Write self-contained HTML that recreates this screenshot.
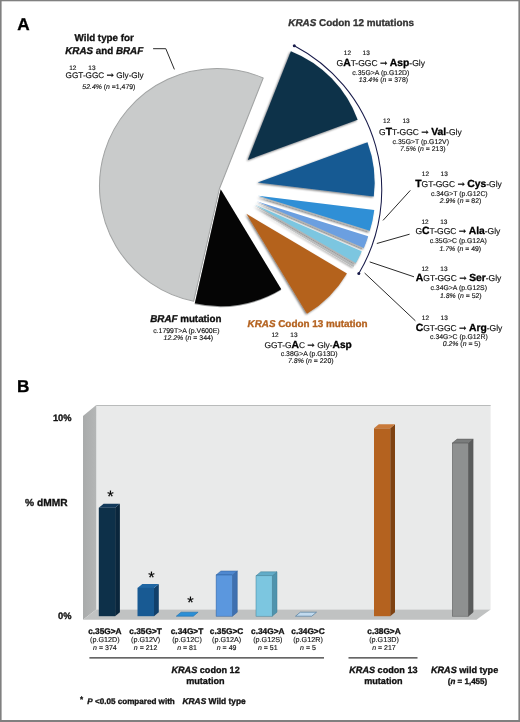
<!DOCTYPE html>
<html><head><meta charset="utf-8"><title>KRAS mutation figure</title>
<style>
html,body{margin:0;padding:0;background:#fff;}
body{width:520px;height:722px;overflow:hidden;}
svg{display:block;font-family:"Liberation Sans",Arial,sans-serif;text-rendering:geometricPrecision;}
</style></head><body>
<svg width="520" height="722" viewBox="0 0 520 722">
<defs>
<filter id="sh" x="-20%" y="-20%" width="140%" height="140%">
<feGaussianBlur in="SourceAlpha" stdDeviation="1.1"/>
<feOffset dx="-0.8" dy="1.2" result="b"/>
<feComponentTransfer><feFuncA type="linear" slope="0.55"/></feComponentTransfer>
<feMerge><feMergeNode/><feMergeNode in="SourceGraphic"/></feMerge>
</filter>
<linearGradient id="sw" x1="0" y1="0" x2="1" y2="0"><stop offset="0" stop-color="#a9abab"/><stop offset="1" stop-color="#b4b6b6"/></linearGradient>
</defs>
<rect x="0" y="0" width="520" height="722" fill="#fff"/>
<g id="pie">
<path d="M247.79,159.93 L290.86,51.15 A117.0,117.0 0 0 1 357.66,119.70 Z" fill="#0d3049" filter="url(#sh)"/>
<path d="M257.64,182.46 L367.50,142.23 A117.0,117.0 0 0 1 373.79,196.55 Z" fill="#185a93" filter="url(#sh)"/>
<path d="M258.12,195.81 L374.27,209.89 A117.0,117.0 0 0 1 369.78,230.73 Z" fill="#b3b5b5" transform="translate(-0.4,0.9)" filter="url(#sh)"/>
<path d="M258.12,195.81 L374.27,209.89 A117.0,117.0 0 0 1 369.78,230.73 Z" fill="#2f8fd6"/>
<path d="M256.52,201.29 L368.18,236.21 A117.0,117.0 0 0 1 363.82,247.93 Z" fill="#b3b5b5" transform="translate(-0.4,0.9)" filter="url(#sh)"/>
<path d="M256.52,201.29 L368.18,236.21 A117.0,117.0 0 0 1 363.82,247.93 Z" fill="#6b9fe0"/>
<path d="M254.48,204.57 L361.78,251.21 A117.0,117.0 0 0 1 355.82,263.03 Z" fill="#b3b5b5" transform="translate(-0.4,0.9)" filter="url(#sh)"/>
<path d="M254.48,204.57 L361.78,251.21 A117.0,117.0 0 0 1 355.82,263.03 Z" fill="#7cc6e0"/>
<path d="M253.09,206.45 L354.44,264.91 A117.0,117.0 0 0 1 353.69,266.18 Z" fill="#b3b5b5" transform="translate(-0.4,0.9)" filter="url(#sh)"/>
<path d="M253.09,206.45 L354.44,264.91 A117.0,117.0 0 0 1 353.69,266.18 Z" fill="#b7babb"/>
<path d="M246.35,213.71 L346.95,273.44 A117.0,117.0 0 0 1 306.95,313.80 Z" fill="#b4621f" filter="url(#sh)"/>
<path d="M220.70,189.17 L281.30,289.25 A117.0,117.0 0 0 1 194.84,303.27 Z" fill="#9a9c9c" transform="translate(-0.3,1)"/>
<path d="M220.70,189.17 L281.30,289.25 A117.0,117.0 0 0 1 194.84,303.27 Z" fill="#050505"/>
<path d="M219.5,188.5 L193.7,301.2 A117.5,117.5 0 1 1 263.2,78.0 Z" fill="#c9cbcb" stroke="#a2a4a4" stroke-width="1.05" stroke-linejoin="round"/>
<path d="M294.3,45.7 A163,163 0 0 1 358.8,273.5" fill="none" stroke="#181b4a" stroke-width="1.05"/><circle cx="294.3" cy="45.7" r="1.5" fill="#181b4a"/><circle cx="358.8" cy="273.5" r="1.5" fill="#181b4a"/>
<g stroke="#2a2a2a" stroke-width="1" fill="none">
<path d="M153.1,48.7 H165.8 L174.4,69.4"/>
<path d="M410.3,190.4 L383,220.4"/>
<path d="M409.6,234.2 L376.8,243.5"/>
<path d="M414,276.8 L369.7,261.9"/>
<path d="M415.4,320.8 L364.6,273"/>
</g>
</g>
<g id="bars">
<polygon points="96.3,405 490.6,405 490.6,609.5 96.3,609.5" fill="#e9eaea"/>
<line x1="96.3" y1="405.5" x2="490.6" y2="405.5" stroke="#b9bbbb" stroke-width="1.2"/>
<polygon points="83,416 96.3,405 96.3,609.5 83,619.8" fill="url(#sw)"/>
<polygon points="96.3,609.5 490.6,609.5 476.5,619.8 83,619.8" fill="#c0c2c2"/>
<polygon points="115.1,507.7 119.89999999999999,503.7 119.89999999999999,612.2 115.1,616.2" fill="#0a263c"/>
<polygon points="98.8,507.7 103.6,503.7 119.89999999999999,503.7 115.1,507.7" fill="#12395a"/>
<rect x="98.8" y="507.7" width="16.3" height="108.50000000000006" fill="#0d3049"/>
<polygon points="154.0,587.9 158.8,583.9 158.8,612.2 154.0,616.2" fill="#11406b"/>
<polygon points="137.5,587.9 142.3,583.9 158.8,583.9 154.0,587.9" fill="#1f66a3"/>
<rect x="137.5" y="587.9" width="16.5" height="28.300000000000068" fill="#185a93"/>
<polygon points="176.3,616.2 193.3,616.2 198.10000000000002,612.2 181.10000000000002,612.2" fill="#2b8fd6" stroke="#1d6fae" stroke-width="0.6"/>
<polygon points="232.5,575 237.3,571.0 237.3,612.2 232.5,616.2" fill="#3f70b0" stroke="#2f5f9a" stroke-width="0.5"/>
<polygon points="216.1,575 220.9,571.0 237.3,571.0 232.5,575" fill="#4f88cf" stroke="#2f5f9a" stroke-width="0.5"/>
<rect x="216.1" y="575" width="16.4" height="41.200000000000045" fill="#5b97de" stroke="#2f5f9a" stroke-width="0.5"/>
<polygon points="272.2,575.8 277.0,571.8 277.0,612.2 272.2,616.2" fill="#4f93ad" stroke="#3f7f97" stroke-width="0.5"/>
<polygon points="256,575.8 260.8,571.8 277.0,571.8 272.2,575.8" fill="#62acc8" stroke="#3f7f97" stroke-width="0.5"/>
<rect x="256" y="575.8" width="16.2" height="40.40000000000009" fill="#7cc6e0" stroke="#3f7f97" stroke-width="0.5"/>
<polygon points="295.5,616.2 311.7,616.2 316.5,612.2 300.3,612.2" fill="#c1daee" stroke="#3f6f94" stroke-width="0.6"/>
<polygon points="390.2,428.3 395.0,424.3 395.0,612.2 390.2,616.2" fill="#7e4212"/>
<polygon points="374,428.3 378.8,424.3 395.0,424.3 390.2,428.3" fill="#c97a3a"/>
<rect x="374" y="428.3" width="16.2" height="187.90000000000003" fill="#b4621f"/>
<polygon points="468.3,443.1 473.1,439.1 473.1,612.2 468.3,616.2" fill="#5a5c5c" stroke="#555" stroke-width="0.5"/>
<polygon points="452.3,443.1 457.1,439.1 473.1,439.1 468.3,443.1" fill="#7a7c7c" stroke="#555" stroke-width="0.5"/>
<rect x="452.3" y="443.1" width="16" height="173.10000000000002" fill="#8e9090" stroke="#555" stroke-width="0.5"/>
<line x1="89.4" y1="657.8" x2="324" y2="657.8" stroke="#333" stroke-width="1.2"/>
<line x1="348.5" y1="657.8" x2="417.5" y2="657.8" stroke="#333" stroke-width="1.2"/>
</g>
<g id="labels">
<text x="17.2" y="29.7" font-size="17.2" font-weight="bold" font-style="normal" text-anchor="start" fill="#000" stroke="#000" stroke-width="0.32" >A</text>
<text x="17.0" y="391.8" font-size="17.2" font-weight="bold" font-style="normal" text-anchor="start" fill="#000" stroke="#000" stroke-width="0.32" >B</text>
<text x="104.2" y="40.6" font-size="9.8" font-weight="bold" font-style="normal" text-anchor="middle" fill="#111" stroke="#111" stroke-width="0.32" >Wild type for</text>
<text x="104.2" y="54.1" font-size="9.8" font-weight="bold" font-style="normal" text-anchor="middle" fill="#111" stroke="#111" stroke-width="0.32" ><tspan font-style="italic">KRAS</tspan> and <tspan font-style="italic">BRAF</tspan></text>
<text x="69.2" y="69.6" font-size="6.5" font-weight="normal" font-style="normal" text-anchor="start" fill="#111" stroke="#111" stroke-width="0.14" >12</text>
<text x="88.3" y="69.6" font-size="6.5" font-weight="normal" font-style="normal" text-anchor="start" fill="#111" stroke="#111" stroke-width="0.14" >13</text>
<text x="65.6" y="78.3" font-size="8.2" font-weight="normal" font-style="normal" text-anchor="start" fill="#111" stroke="#111" stroke-width="0.14" >GGT-GGC <tspan font-size="9">➞</tspan> Gly-Gly</text>
<text x="82.3" y="89.1" font-size="6.9" font-weight="normal" font-style="normal" text-anchor="start" fill="#111" stroke="#111" stroke-width="0.14" ><tspan font-style="italic">52.4%</tspan> (<tspan font-style="italic">n</tspan> =1,479)</text>
<text x="288.3" y="25.6" font-size="9.9" font-weight="bold" font-style="normal" text-anchor="start" fill="#333" stroke="#333" stroke-width="0.32" ><tspan font-style="italic">KRAS</tspan> Codon 12 mutations</text>
<text x="343.8" y="55.2" font-size="6.5" font-weight="normal" font-style="normal" text-anchor="start" fill="#111" stroke="#111" stroke-width="0.14" >12</text>
<text x="362.6" y="55.2" font-size="6.5" font-weight="normal" font-style="normal" text-anchor="start" fill="#111" stroke="#111" stroke-width="0.14" >13</text>
<text x="336.5" y="66.2" font-size="8.5" font-weight="normal" font-style="normal" text-anchor="start" fill="#111" stroke="#111" stroke-width="0.14" >G<tspan font-weight="bold" font-size="10.4" fill="#000" stroke="#000" stroke-width="0.3">A</tspan>T-GGC <tspan font-size="9">➞</tspan> <tspan font-weight="bold" font-size="10.3" fill="#000" stroke="#000" stroke-width="0.3">Asp</tspan>-Gly</text>
<text x="380.8" y="74.7" font-size="6.9" font-weight="normal" font-style="normal" text-anchor="middle" fill="#111" stroke="#111" stroke-width="0.14" >c.35G&gt;A (p.G12D)</text>
<text x="383.4" y="82.3" font-size="6.9" font-weight="normal" font-style="normal" text-anchor="middle" fill="#111" stroke="#111" stroke-width="0.14" ><tspan font-style="italic">13.4%</tspan> (<tspan font-style="italic">n</tspan> = 378)</text>
<text x="383.1" y="122.7" font-size="6.5" font-weight="normal" font-style="normal" text-anchor="start" fill="#111" stroke="#111" stroke-width="0.14" >12</text>
<text x="402.5" y="122.7" font-size="6.5" font-weight="normal" font-style="normal" text-anchor="start" fill="#111" stroke="#111" stroke-width="0.14" >13</text>
<text x="379" y="135.3" font-size="8.5" font-weight="normal" font-style="normal" text-anchor="start" fill="#111" stroke="#111" stroke-width="0.14" >G<tspan font-weight="bold" font-size="10.4" fill="#000" stroke="#000" stroke-width="0.3">T</tspan>T-GGC <tspan font-size="9">➞</tspan> <tspan font-weight="bold" font-size="10.3" fill="#000" stroke="#000" stroke-width="0.3">Val</tspan>-Gly</text>
<text x="420.8" y="143.8" font-size="6.9" font-weight="normal" font-style="normal" text-anchor="middle" fill="#111" stroke="#111" stroke-width="0.14" >c.35G&gt;T (p.G12V)</text>
<text x="422.8" y="150.8" font-size="6.9" font-weight="normal" font-style="normal" text-anchor="middle" fill="#111" stroke="#111" stroke-width="0.14" ><tspan font-style="italic">7.5%</tspan> (<tspan font-style="italic">n</tspan> = 213)</text>
<text x="421.8" y="176.3" font-size="6.5" font-weight="normal" font-style="normal" text-anchor="start" fill="#111" stroke="#111" stroke-width="0.14" >12</text>
<text x="440.6" y="176.3" font-size="6.5" font-weight="normal" font-style="normal" text-anchor="start" fill="#111" stroke="#111" stroke-width="0.14" >13</text>
<text x="415.2" y="187.05" font-size="8.5" font-weight="normal" font-style="normal" text-anchor="start" fill="#111" stroke="#111" stroke-width="0.14" ><tspan font-weight="bold" font-size="10.4" fill="#000" stroke="#000" stroke-width="0.3">T</tspan>GT-GGC <tspan font-size="9">➞</tspan> <tspan font-weight="bold" font-size="10.3" fill="#000" stroke="#000" stroke-width="0.3">Cys</tspan>-Gly</text>
<text x="459.3" y="195.55" font-size="6.9" font-weight="normal" font-style="normal" text-anchor="middle" fill="#111" stroke="#111" stroke-width="0.14" >c.34G&gt;T (p.G12C)</text>
<text x="460.5" y="202.7" font-size="6.9" font-weight="normal" font-style="normal" text-anchor="middle" fill="#111" stroke="#111" stroke-width="0.14" ><tspan font-style="italic">2.9%</tspan> (<tspan font-style="italic">n</tspan> = 82)</text>
<text x="421.4" y="223.6" font-size="6.5" font-weight="normal" font-style="normal" text-anchor="start" fill="#111" stroke="#111" stroke-width="0.14" >12</text>
<text x="440.2" y="223.6" font-size="6.5" font-weight="normal" font-style="normal" text-anchor="start" fill="#111" stroke="#111" stroke-width="0.14" >13</text>
<text x="415.4" y="234.15" font-size="8.5" font-weight="normal" font-style="normal" text-anchor="start" fill="#111" stroke="#111" stroke-width="0.14" >G<tspan font-weight="bold" font-size="10.4" fill="#000" stroke="#000" stroke-width="0.3">C</tspan>T-GGC <tspan font-size="9">➞</tspan> <tspan font-weight="bold" font-size="10.3" fill="#000" stroke="#000" stroke-width="0.3">Ala</tspan>-Gly</text>
<text x="458.3" y="243.2" font-size="6.9" font-weight="normal" font-style="normal" text-anchor="middle" fill="#111" stroke="#111" stroke-width="0.14" >c.35G&gt;C (p.G12A)</text>
<text x="460.3" y="250.7" font-size="6.9" font-weight="normal" font-style="normal" text-anchor="middle" fill="#111" stroke="#111" stroke-width="0.14" ><tspan font-style="italic">1.7%</tspan> (<tspan font-style="italic">n</tspan> = 49)</text>
<text x="421.5" y="270.6" font-size="6.5" font-weight="normal" font-style="normal" text-anchor="start" fill="#111" stroke="#111" stroke-width="0.14" >12</text>
<text x="440.3" y="270.6" font-size="6.5" font-weight="normal" font-style="normal" text-anchor="start" fill="#111" stroke="#111" stroke-width="0.14" >13</text>
<text x="415.8" y="281.4" font-size="8.5" font-weight="normal" font-style="normal" text-anchor="start" fill="#111" stroke="#111" stroke-width="0.14" ><tspan font-weight="bold" font-size="10.4" fill="#000" stroke="#000" stroke-width="0.3">A</tspan>GT-GGC <tspan font-size="9">➞</tspan> <tspan font-weight="bold" font-size="10.3" fill="#000" stroke="#000" stroke-width="0.3">Ser</tspan>-Gly</text>
<text x="458.7" y="290.4" font-size="6.9" font-weight="normal" font-style="normal" text-anchor="middle" fill="#111" stroke="#111" stroke-width="0.14" >c.34G&gt;A (p.G12S)</text>
<text x="460.8" y="297.9" font-size="6.9" font-weight="normal" font-style="normal" text-anchor="middle" fill="#111" stroke="#111" stroke-width="0.14" ><tspan font-style="italic">1.8%</tspan> (<tspan font-style="italic">n</tspan> = 52)</text>
<text x="421.8" y="319.8" font-size="6.5" font-weight="normal" font-style="normal" text-anchor="start" fill="#111" stroke="#111" stroke-width="0.14" >12</text>
<text x="440.6" y="319.8" font-size="6.5" font-weight="normal" font-style="normal" text-anchor="start" fill="#111" stroke="#111" stroke-width="0.14" >13</text>
<text x="415.7" y="330.8" font-size="8.5" font-weight="normal" font-style="normal" text-anchor="start" fill="#111" stroke="#111" stroke-width="0.14" ><tspan font-weight="bold" font-size="10.4" fill="#000" stroke="#000" stroke-width="0.3">C</tspan>GT-GGC <tspan font-size="9">➞</tspan> <tspan font-weight="bold" font-size="10.3" fill="#000" stroke="#000" stroke-width="0.3">Arg</tspan>-Gly</text>
<text x="458.9" y="338.9" font-size="6.9" font-weight="normal" font-style="normal" text-anchor="middle" fill="#111" stroke="#111" stroke-width="0.14" >c.34G&gt;C (p.G12R)</text>
<text x="461.6" y="346.1" font-size="6.9" font-weight="normal" font-style="normal" text-anchor="middle" fill="#111" stroke="#111" stroke-width="0.14" ><tspan font-style="italic">0.2%</tspan> (<tspan font-style="italic">n</tspan> = 5)</text>
<text x="185.9" y="321.5" font-size="9.8" font-weight="bold" font-style="normal" text-anchor="middle" fill="#111" stroke="#111" stroke-width="0.32" ><tspan font-style="italic">BRAF</tspan> mutation</text>
<text x="186.4" y="332.8" font-size="6.95" font-weight="normal" font-style="normal" text-anchor="middle" fill="#111" stroke="#111" stroke-width="0.14" >c.1799T&gt;A (p.V600E)</text>
<text x="188.4" y="340.4" font-size="6.95" font-weight="normal" font-style="normal" text-anchor="middle" fill="#111" stroke="#111" stroke-width="0.14" ><tspan font-style="italic">12.2%</tspan> (<tspan font-style="italic">n</tspan> = 344)</text>
<text x="247.5" y="327.0" font-size="9.9" font-weight="bold" font-style="normal" text-anchor="start" fill="#b4621f" stroke="#b4621f" stroke-width="0.32" ><tspan font-style="italic">KRAS</tspan> Codon 13 mutation</text>
<text x="271.4" y="337.3" font-size="6.5" font-weight="normal" font-style="normal" text-anchor="start" fill="#111" stroke="#111" stroke-width="0.14" >12</text>
<text x="290.3" y="337.3" font-size="6.5" font-weight="normal" font-style="normal" text-anchor="start" fill="#111" stroke="#111" stroke-width="0.14" >13</text>
<text x="264.5" y="347.7" font-size="8.4" font-weight="normal" font-style="normal" text-anchor="start" fill="#111" stroke="#111" stroke-width="0.14" >GGT-G<tspan font-weight="bold" font-size="10.3" fill="#000" stroke="#000" stroke-width="0.3">A</tspan>C <tspan font-size="9">➞</tspan> Gly-<tspan font-weight="bold" font-size="10.2" fill="#000" stroke="#000" stroke-width="0.3">Asp</tspan></text>
<text x="309.2" y="355.8" font-size="6.9" font-weight="normal" font-style="normal" text-anchor="middle" fill="#111" stroke="#111" stroke-width="0.14" >c.38G&gt;A (p.G13D)</text>
<text x="310.8" y="363" font-size="6.9" font-weight="normal" font-style="normal" text-anchor="middle" fill="#111" stroke="#111" stroke-width="0.14" ><tspan font-style="italic">7.8%</tspan> (<tspan font-style="italic">n</tspan> = 220)</text>
<text x="71.5" y="421" font-size="9.3" font-weight="bold" font-style="normal" text-anchor="end" fill="#111" stroke="#111" stroke-width="0.32" >10%</text>
<text x="67.5" y="506" font-size="10.2" font-weight="bold" font-style="normal" text-anchor="end" fill="#111" stroke="#111" stroke-width="0.32" >% dMMR</text>
<text x="71.5" y="619" font-size="9.3" font-weight="bold" font-style="normal" text-anchor="end" fill="#111" stroke="#111" stroke-width="0.32" >0%</text>
<text x="110.4" y="501.8" font-size="16.5" font-weight="normal" font-style="normal" text-anchor="middle" fill="#000" stroke="#000" stroke-width="0.14" >*</text>
<text x="151.4" y="582.5" font-size="16.5" font-weight="normal" font-style="normal" text-anchor="middle" fill="#000" stroke="#000" stroke-width="0.14" >*</text>
<text x="190.5" y="608.0" font-size="16.5" font-weight="normal" font-style="normal" text-anchor="middle" fill="#000" stroke="#000" stroke-width="0.14" >*</text>
<text x="104.9" y="634" font-size="8.3" font-weight="bold" font-style="normal" text-anchor="middle" fill="#111" stroke="#111" stroke-width="0.32" >c.35G&gt;A</text>
<text x="104.9" y="642.3" font-size="7.2" font-weight="normal" font-style="normal" text-anchor="middle" fill="#111" stroke="#111" stroke-width="0.14" >(p.G12D)</text>
<text x="104.9" y="650.4" font-size="7" font-weight="normal" font-style="normal" text-anchor="middle" fill="#111" stroke="#111" stroke-width="0.14" ><tspan font-style="italic">n</tspan> = 374</text>
<text x="145.6" y="634" font-size="8.3" font-weight="bold" font-style="normal" text-anchor="middle" fill="#111" stroke="#111" stroke-width="0.32" >c.35G&gt;T</text>
<text x="145.6" y="642.3" font-size="7.2" font-weight="normal" font-style="normal" text-anchor="middle" fill="#111" stroke="#111" stroke-width="0.14" >(p.G12V)</text>
<text x="145.6" y="650.4" font-size="7" font-weight="normal" font-style="normal" text-anchor="middle" fill="#111" stroke="#111" stroke-width="0.14" ><tspan font-style="italic">n</tspan> = 212</text>
<text x="187" y="634" font-size="8.3" font-weight="bold" font-style="normal" text-anchor="middle" fill="#111" stroke="#111" stroke-width="0.32" >c.34G&gt;T</text>
<text x="187" y="642.3" font-size="7.2" font-weight="normal" font-style="normal" text-anchor="middle" fill="#111" stroke="#111" stroke-width="0.14" >(p.G12C)</text>
<text x="187" y="650.4" font-size="7" font-weight="normal" font-style="normal" text-anchor="middle" fill="#111" stroke="#111" stroke-width="0.14" ><tspan font-style="italic">n</tspan> = 81</text>
<text x="226.6" y="634" font-size="8.3" font-weight="bold" font-style="normal" text-anchor="middle" fill="#111" stroke="#111" stroke-width="0.32" >c.35G&gt;C</text>
<text x="226.6" y="642.3" font-size="7.2" font-weight="normal" font-style="normal" text-anchor="middle" fill="#111" stroke="#111" stroke-width="0.14" >(p.G12A)</text>
<text x="226.6" y="650.4" font-size="7" font-weight="normal" font-style="normal" text-anchor="middle" fill="#111" stroke="#111" stroke-width="0.14" ><tspan font-style="italic">n</tspan> = 49</text>
<text x="267.8" y="634" font-size="8.3" font-weight="bold" font-style="normal" text-anchor="middle" fill="#111" stroke="#111" stroke-width="0.32" >c.34G&gt;A</text>
<text x="267.8" y="642.3" font-size="7.2" font-weight="normal" font-style="normal" text-anchor="middle" fill="#111" stroke="#111" stroke-width="0.14" >(p.G12S)</text>
<text x="267.8" y="650.4" font-size="7" font-weight="normal" font-style="normal" text-anchor="middle" fill="#111" stroke="#111" stroke-width="0.14" ><tspan font-style="italic">n</tspan> = 51</text>
<text x="308" y="634" font-size="8.3" font-weight="bold" font-style="normal" text-anchor="middle" fill="#111" stroke="#111" stroke-width="0.32" >c.34G&gt;C</text>
<text x="308" y="642.3" font-size="7.2" font-weight="normal" font-style="normal" text-anchor="middle" fill="#111" stroke="#111" stroke-width="0.14" >(p.G12R)</text>
<text x="308" y="650.4" font-size="7" font-weight="normal" font-style="normal" text-anchor="middle" fill="#111" stroke="#111" stroke-width="0.14" ><tspan font-style="italic">n</tspan> = 5</text>
<text x="384" y="634" font-size="8.3" font-weight="bold" font-style="normal" text-anchor="middle" fill="#111" stroke="#111" stroke-width="0.32" >c.38G&gt;A</text>
<text x="384" y="642.3" font-size="7.2" font-weight="normal" font-style="normal" text-anchor="middle" fill="#111" stroke="#111" stroke-width="0.14" >(p.G13D)</text>
<text x="384" y="650.4" font-size="7" font-weight="normal" font-style="normal" text-anchor="middle" fill="#111" stroke="#111" stroke-width="0.14" ><tspan font-style="italic">n</tspan> = 217</text>
<text x="205.6" y="673.4" font-size="9.1" font-weight="bold" font-style="normal" text-anchor="middle" fill="#111" stroke="#111" stroke-width="0.32" ><tspan font-style="italic">KRAS</tspan> codon 12</text>
<text x="205.4" y="684.0" font-size="9.1" font-weight="bold" font-style="normal" text-anchor="middle" fill="#111" stroke="#111" stroke-width="0.32" >mutation</text>
<text x="383.4" y="673.4" font-size="9.1" font-weight="bold" font-style="normal" text-anchor="middle" fill="#111" stroke="#111" stroke-width="0.32" ><tspan font-style="italic">KRAS</tspan> codon 13</text>
<text x="383.4" y="684.0" font-size="9.1" font-weight="bold" font-style="normal" text-anchor="middle" fill="#111" stroke="#111" stroke-width="0.32" >mutation</text>
<text x="464.6" y="673.4" font-size="9.1" font-weight="bold" font-style="normal" text-anchor="middle" fill="#111" stroke="#111" stroke-width="0.32" ><tspan font-style="italic">KRAS</tspan> wild type</text>
<text x="467.5" y="684" font-size="8" font-weight="bold" font-style="normal" text-anchor="middle" fill="#111" stroke="#111" stroke-width="0.32" >(<tspan font-style="italic">n</tspan> = 1,455)</text>
<text x="80" y="702" font-size="8" font-weight="bold" font-style="normal" text-anchor="start" fill="#111" stroke="#111" stroke-width="0.32" >*</text>
<text x="87.3" y="703.5" font-size="8.1" font-weight="bold" font-style="normal" text-anchor="start" fill="#111" stroke="#111" stroke-width="0.32" ><tspan font-style="italic">P</tspan> &lt;0.05 compared with</text>
<text x="182.5" y="703.5" font-size="8.4" font-weight="bold" font-style="normal" text-anchor="start" fill="#111" stroke="#111" stroke-width="0.32" ><tspan font-style="italic">KRAS</tspan> Wild type</text>
</g>
<g fill="#808080"><rect x="0" y="0" width="520" height="1.3"/><rect x="0" y="0" width="1.6" height="722"/><rect x="518.4" y="0" width="1.6" height="722"/><rect x="0" y="720" width="520" height="2"/></g>
</svg>
</body></html>
